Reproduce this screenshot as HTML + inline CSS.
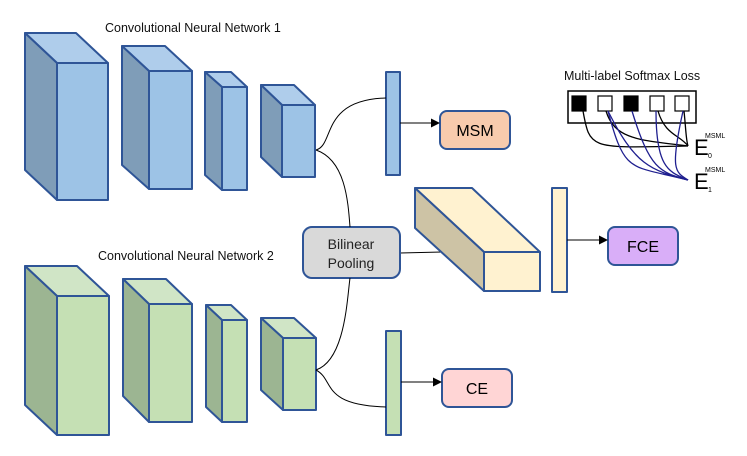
<!DOCTYPE html>
<html><head><meta charset="utf-8"><style>body{margin:0;background:#fff}svg{display:block}</style></head><body>
<svg width="747" height="456" viewBox="0 0 747 456" xmlns="http://www.w3.org/2000/svg" font-family="Liberation Sans, sans-serif">
<g fill="none" stroke="#000" stroke-width="1">
<path d="M400,253 L442,252"/>
</g>
<g stroke="#2f5597" stroke-width="2" stroke-linejoin="round">
<!-- CNN1 -->
<polygon points="25,33 76,33 108,63 57,63" fill="#afcdeb"/>
<polygon points="25,33 57,63 57,200 25,170" fill="#7f9db8"/>
<rect x="57" y="63" width="51" height="137" fill="#9dc3e6"/>
<polygon points="122,46 165,46 192,71 149,71" fill="#afcdeb"/>
<polygon points="122,46 149,71 149,189 122,165" fill="#7f9db8"/>
<rect x="149" y="71" width="43" height="118" fill="#9dc3e6"/>
<polygon points="205,72 231,72 247,87 222,87" fill="#afcdeb"/>
<polygon points="205,72 222,87 222,190 205,175" fill="#7f9db8"/>
<rect x="222" y="87" width="25" height="103" fill="#9dc3e6"/>
<polygon points="261,85 294,85 315,105 282,105" fill="#afcdeb"/>
<polygon points="261,85 282,105 282,177 261,157" fill="#7f9db8"/>
<rect x="282" y="105" width="33" height="72" fill="#9dc3e6"/>
<rect x="386" y="72" width="14" height="103" fill="#9dc3e6"/>
<!-- CNN2 -->
<polygon points="25,266 77,266 109,296 57,296" fill="#d0e5c6"/>
<polygon points="25,266 57,296 57,435 25,405" fill="#9cb592"/>
<rect x="57" y="296" width="52" height="139" fill="#c5e0b4"/>
<polygon points="123,279 166,279 192,304 149,304" fill="#d0e5c6"/>
<polygon points="123,279 149,304 149,422 123,396" fill="#9cb592"/>
<rect x="149" y="304" width="43" height="118" fill="#c5e0b4"/>
<polygon points="206,305 231,305 247,320 222,320" fill="#d0e5c6"/>
<polygon points="206,305 222,320 222,422 206,407" fill="#9cb592"/>
<rect x="222" y="320" width="25" height="102" fill="#c5e0b4"/>
<polygon points="261,318 294,318 316,338 283,338" fill="#d0e5c6"/>
<polygon points="261,318 283,338 283,410 261,390" fill="#9cb592"/>
<rect x="283" y="338" width="33" height="72" fill="#c5e0b4"/>
<rect x="386" y="331" width="15" height="104" fill="#c5e0b4"/>
<!-- yellow -->
<polygon points="415,188 472,188 540,252 484,252" fill="#fff2d0"/>
<polygon points="415,188 484,252 484,291 415,228" fill="#cdc3a5"/>
<rect x="484" y="252" width="56" height="39" fill="#fff2d0"/>
<rect x="552" y="188" width="15" height="104" fill="#fff2d0"/>
<!-- boxes -->
<rect x="303" y="227" width="97" height="51" rx="9" fill="#d9d9d9"/>
<rect x="440" y="111" width="70" height="38" rx="7" fill="#f8cbad"/>
<rect x="442" y="369" width="70" height="38" rx="7" fill="#ffd5d5"/>
<rect x="608" y="227" width="70" height="38" rx="7" fill="#d9aef8"/>
</g>
<g fill="none" stroke="#000" stroke-width="1">
<path d="M316,150 C335,145 320,100 386,98"/>
<path d="M316,150 C345,160 348,200 350,227"/>
<path d="M316,370 C345,360 347,300 350,278"/>
<path d="M316,370 C335,380 320,405 386,407"/>
<path d="M400,123 L432,123"/>
<path d="M401,382 L434,382"/>
<path d="M567,240 L600,240"/>
</g>
<g fill="#000">
<polygon points="440,123 431,118.5 431,127.5"/>
<polygon points="442,382 433,377.5 433,386.5"/>
<polygon points="608,240 599,235.5 599,244.5"/>
</g>
<g font-size="16" text-anchor="middle" fill="#000">
<text x="475" y="136">MSM</text>
<text x="477" y="394">CE</text>
<text x="643" y="252">FCE</text>
<text x="351" y="249" font-size="14" fill="#222">Bilinear</text>
<text x="351" y="268" font-size="14" fill="#222">Pooling</text>
</g>
<g font-size="12.5" fill="#111">
<text x="105" y="32">Convolutional Neural Network 1</text>
<text x="98" y="260">Convolutional Neural Network 2</text>
<text x="564" y="80">Multi-label Softmax Loss</text>
</g>
<rect x="568" y="91" width="128" height="32" fill="#fff" stroke="#000" stroke-width="1.5"/>
<g stroke="#000" stroke-width="1.2">
<rect x="572" y="96" width="14" height="15" fill="#000"/>
<rect x="598" y="96" width="14" height="15" fill="#fff"/>
<rect x="624" y="96" width="14" height="15" fill="#000"/>
<rect x="650" y="96" width="14" height="15" fill="#fff"/>
<rect x="675" y="96" width="14" height="15" fill="#fff"/>
</g>
<g fill="none" stroke="#000" stroke-width="1.3">
<path d="M583,111 C590,150 590,148 688,146"/>
<path d="M606,111 C615,140 640,140 688,146"/>
<path d="M658,111 C665,135 680,135 688,146"/>
<path d="M684,111 C686,130 686,140 688,146"/>
</g>
<g fill="none" stroke="#1f1f8f" stroke-width="1.3">
<path d="M608,111 C625,175 630,165 688,180"/>
<path d="M608,111 C635,165 650,170 688,180"/>
<path d="M632,111 C650,170 660,172 688,180"/>
<path d="M656,111 C656,170 670,172 688,180"/>
<path d="M683,111 C670,170 675,172 688,180"/>
</g>
<g fill="#000">
<text x="694" y="155" font-size="22">E</text><text x="708" y="158" font-size="7">0</text><text x="705" y="138" font-size="7">MSML</text>
<text x="694" y="189" font-size="22">E</text><text x="708" y="192" font-size="7">1</text><text x="705" y="172" font-size="7">MSML</text>
</g>
</svg>
</body></html>
